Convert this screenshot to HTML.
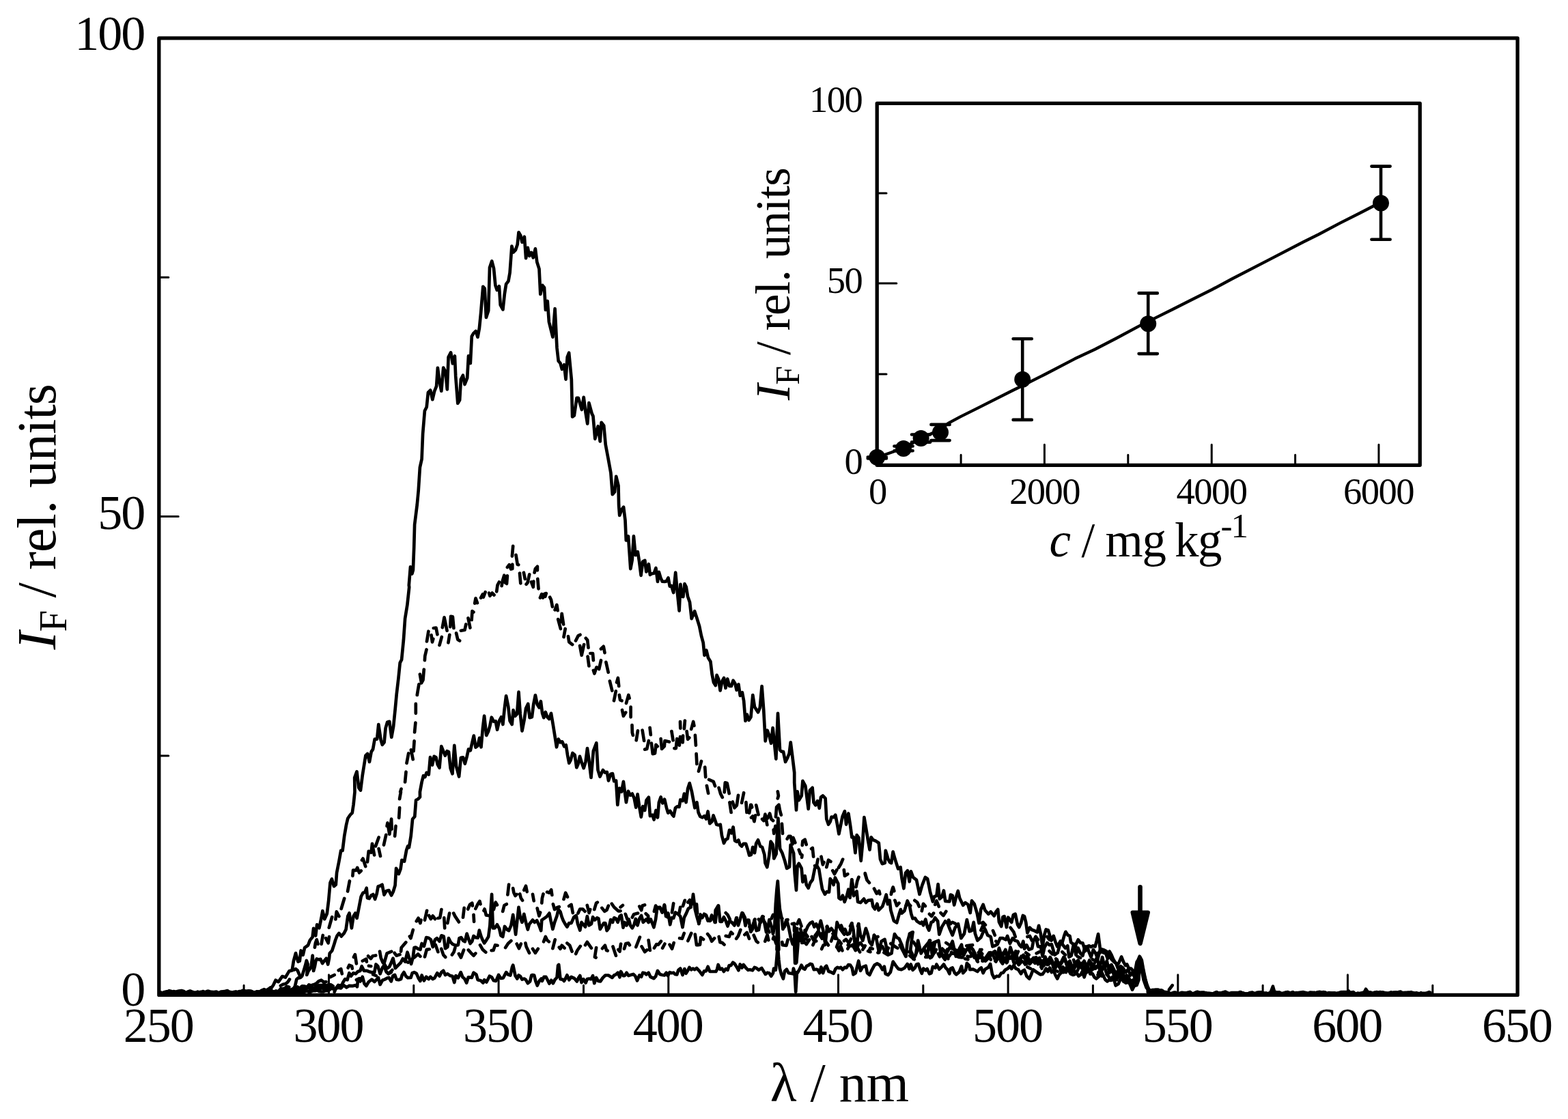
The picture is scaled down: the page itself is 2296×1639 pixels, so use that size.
<!DOCTYPE html>
<html lang="en"><head><meta charset="utf-8"><title>Fluorescence spectra</title>
<style>html,body{margin:0;padding:0;background:#fff;}body{width:2296px;height:1639px;overflow:hidden;}svg{display:block;position:absolute;left:0;top:0;}text{font-family:"Liberation Serif","DejaVu Serif",serif;fill:#000;}.t{font-size:72px;letter-spacing:-2px;}.a{font-size:80px;}.it{font-size:54.5px;letter-spacing:-1.5px;}.ia{font-size:71px;}.c{fill:none;stroke:#000;stroke-width:4.7;stroke-linejoin:round;stroke-linecap:round;}.k{fill:none;stroke:#000;stroke-width:3;stroke-linecap:round;}.e{fill:none;stroke:#000;stroke-width:4.6;stroke-linecap:round;}.fr{fill:none;stroke:#000;stroke-width:5.3;stroke-linejoin:round;}</style></head><body>
<svg width="2296" height="1639" viewBox="0 0 2296 1639">
<rect width="2296" height="1639" fill="#fff"/>
<path class="k" d="M357.1 1457.3v-14.1M481.5 1457.3v-29.5M605.8 1457.3v-14.1M730.1 1457.3v-29.5M854.5 1457.3v-14.1M978.8 1457.3v-29.5M1103.1 1457.3v-14.1M1227.5 1457.3v-29.5M1351.8 1457.3v-14.1M1476.1 1457.3v-29.5M1600.4 1457.3v-14.1M1724.8 1457.3v-29.5M1849.1 1457.3v-14.1M1973.4 1457.3v-29.5M2097.8 1457.3v-14.1M232.8 1106.9h14M232.8 756.6h28.4M232.8 406.2h14"/>
<polyline class="c" points="396.6,1448.2 400.3,1442.7 403.6,1435.7 407.7,1438.1 413.3,1430.1 417.9,1431.6 423.4,1422.4 427.7,1421.4 429.9,1407.6 433,1396.1 436.4,1408.5 438.8,1407.6 440.6,1392.4 443.7,1398.7 446.1,1388.2 451.1,1384.5 453.9,1377.1 457.6,1372.5 459.1,1359.9 462.2,1370.6 464.1,1354.4 467.4,1359.2 470.5,1344.8 472.4,1334.2 475.2,1346.2 478.8,1338.3 481.2,1318.9 483.5,1293 485.9,1287.5 489,1298.2 491.8,1295.8 493.1,1278.2 496.4,1261.6 499.2,1245.9 501.6,1245.9 504.2,1224.7 507.1,1208 509.3,1198.8 513,1193.3 515.8,1190.5 517.6,1178.5 519.5,1160 519.2,1139 522.5,1130.1 525.3,1153.8 528,1157.5 530.8,1135.3 535.4,1106.7 538.2,1103.9 541,1115.9 543.7,1101.1 546.1,1097.4 548.7,1082.6 552.1,1082.6 554.3,1061 557.6,1083.6 559.8,1090.9 562.6,1087.3 564.6,1066.6 567.2,1057.7 570.2,1056.8 573.3,1079.9 576.1,1064.2 578.8,1037.4 580.7,1017 583.5,993 585.7,970.9 588.1,966.2 590.9,937.6 593.1,906.2 596.4,885.9 599.2,860 598.8,857.1 601,830.3 603.4,840.5 604.9,835 606.2,801.7 607.1,768.5 610.8,738.9 612.7,718.6 614.9,684.4 617.6,672.4 619.1,635.4 621.9,601.8 624.7,596.2 626.9,575 630.2,571.6 633.3,585.1 636.1,573.1 639.1,565.7 640.9,538.9 643.5,558.3 646.3,572.7 649.2,538.6 652.4,544.5 654.8,570.3 656.6,523.2 660.1,516.4 662.9,532.5 665.9,521.4 667.2,550.9 670.3,590.7 673.1,586.1 674.9,555.6 677.9,549.7 680.5,563 684.2,553.7 686,521.4 688.8,532.1 690.8,492.7 693.4,488.1 696.7,485 699.5,493.7 701.9,480.7 704.1,458.6 707.3,419.8 709.7,422.5 711.9,465 715.2,454.9 717,392.1 720.2,382.4 723,393 725.4,417.9 727.8,424.9 730.9,419.2 732.7,446.6 736.4,453.4 738.8,430.9 741.1,416.1 744.4,411.8 746.6,399.4 749.4,360.6 751.8,369.5 754.9,366.2 757.7,357.9 759.5,340.3 762.3,344.9 764.5,354.7 767.9,346.8 770.1,378.2 772.8,362.9 775.2,374.9 778,369.9 780.8,377.3 783.9,364.3 786.3,383.7 789.5,393.9 791.3,430.9 794.3,417.9 797,421.2 798.9,453.9 801.7,441 803.9,471.5 809.4,493.7 812.6,452.1 815.5,509.4 817.7,528.8 820.5,532.1 822.9,540.8 826.1,534.3 828.5,555.6 830.7,523.2 833.1,516.8 836.8,555.6 838.1,610.5 840.8,608.6 844.5,582.8 846.9,582.8 851.9,600 854.7,581.8 857.5,604 860.2,620.6 862.4,590.2 866.7,605.9 868.5,609.6 871.3,642.8 875.6,624.3 878.7,646.5 880.6,618.8 884.2,623.4 886.7,651.1 890.7,672.4 894.4,692.7 896.8,724.1 900,720.4 902.2,697.9 905.5,711.2 906.1,740 907.2,754.9 910.5,746.1 913.1,742.7 915.5,762.1 916.8,791.5 918.3,790.9 920,785.4 921.6,808.7 923.3,833.1 925.7,820.3 927.9,785.4 930.5,813.1 932.1,812.6 933.8,808.1 936,822 938.6,842.8 941.2,822.5 944.3,820.9 946.3,837.5 948.2,835.3 949.9,826.2 951.9,841.9 954.3,840.3 957.6,839.7 960.4,832 963,851.9 964.8,837.8 967.4,846.4 969.8,851.7 973.2,851.9 975.9,851.4 978.5,846.4 980.7,858.6 983.1,858 986.2,868 989.2,838.6 991.8,867.4 994.6,894.6 996.4,855.8 997.8,873 1000.3,874.1 1002.5,855.2 1004.8,859.9 1007,873.5 1010,882.1 1012.7,906.2 1017.1,895.1 1020.4,905.3 1024.1,917.3 1026.9,931.1 1029.7,941.3 1031.5,959.8 1034.3,952.4 1037,963.5 1040.4,969 1042.6,987.5 1045,999.5 1047.8,1004.1 1049.6,988.8 1052.2,994.9 1054.6,1011.5 1057.4,997.6 1060.1,993 1062.5,1007.8 1065.3,994.5 1068.1,1005 1070.9,1005 1073.6,996.7 1076.4,1001.3 1078.6,1010.6 1081.4,1002.3 1083.8,1018.9 1086.9,1014.3 1089.1,1026.3 1091.5,1055.8 1093.9,1046.6 1096.5,1054.9 1099.5,1050.3 1102.3,1018 1105,1035.5 1110,1043.3 1112.8,1036.4 1115.6,1005 1118.3,1041.1 1120.7,1085.4 1123.5,1069.7 1126.3,1077.1 1129.1,1088.7 1131.6,1066 1136.3,1111.6 1139,1044.8 1142,1098.3 1144.2,1100.6 1147,1101.1 1150.1,1115.9 1153.4,1109.4 1155.7,1103.5 1157.7,1087.3 1160.5,1109.4 1163.2,1131.6 1163.2,1146.6 1166,1186.5 1167.6,1159.4 1169.8,1172.1 1173.7,1165.5 1175.4,1143.9 1179.3,1151.1 1183.7,1184.9 1185.9,1157.7 1189.6,1153.8 1191.5,1175.5 1194.2,1179.3 1197,1173.2 1199.8,1183.8 1202,1167.7 1204.8,1165.5 1208.6,1169.4 1210.3,1199.8 1213.1,1207.6 1215.8,1203.2 1217.5,1196.5 1220.8,1197.1 1223.3,1193.7 1225.8,1206.5 1228.4,1221.5 1230.8,1209.8 1233.6,1196 1236.9,1188.2 1239.1,1207.6 1242.4,1191.5 1245.2,1209.8 1247.4,1226.4 1249.7,1225.9 1252.4,1249.2 1254.6,1223.1 1257.4,1227 1260.7,1260.8 1263,1236.4 1265.4,1197.1 1267.9,1212 1270.7,1229.2 1273.5,1244.7 1275.7,1226.4 1278.5,1230.3 1281.8,1231.4 1286.8,1234.8 1289,1258.6 1291.8,1265.2 1295.7,1264.1 1296.8,1245.8 1300.6,1258.6 1302.9,1263 1305.1,1264.1 1307.6,1247.5 1310.6,1258.6 1315.1,1272.4 1318.6,1270.2 1320.6,1286.9 1323.4,1301.3 1326.1,1278.5 1328.9,1275.2 1331.7,1291.3 1333.9,1276.3 1337.2,1285.2 1342,1288.9 1346.5,1309.9 1350.3,1296.6 1354.8,1285 1358.1,1287.2 1360.3,1297.7 1362,1306.6 1365.9,1320.5 1368.1,1313.3 1371.4,1312.1 1373.6,1295 1375.8,1316.6 1379.2,1313.8 1381.9,1304.4 1384.2,1319.9 1390.3,1320.5 1391.9,1310.5 1394.7,1311.6 1397.2,1325.5 1400.2,1313.3 1402.8,1304.9 1405.2,1315.5 1410.2,1326 1413.5,1322.1 1417.4,1324.9 1420.7,1337.1 1423,1319.4 1426.8,1324.3 1430.7,1337.6 1433.5,1352.1 1436.3,1332.1 1439.6,1324.9 1442.4,1333.2 1447.3,1338.8 1450.7,1335.4 1455.7,1341.5 1458.4,1335.4 1461.2,1332.1 1462.9,1350.4 1466.2,1357 1468.4,1343.2 1470.6,1342.1 1473.9,1358.2 1476.2,1343.7 1481.2,1350.9 1483.9,1339.9 1486.7,1338.8 1490,1354.3 1492.2,1358.2 1495,1352.1 1497.8,1341 1500,1342.1 1502.2,1350.9 1504.4,1366.5 1507.8,1358.7 1511.1,1362 1514.4,1363.1 1518.8,1365.4 1521.1,1355.9 1523.8,1367.6 1526.6,1386.4 1529.4,1368.7 1531.6,1361.5 1534.9,1362.6 1539.4,1377.6 1542.7,1370.9 1545.5,1379.8 1548.2,1386.4 1552.7,1378.7 1555.4,1380.9 1558.2,1370.9 1560.4,1364.8 1563.7,1369.8 1566.5,1370.9 1568.2,1380.3 1570.9,1382.5 1575.4,1383.6 1578.7,1376.4 1582,1380.9 1585.4,1381.4 1588.1,1389.7 1591.5,1386.4 1594.8,1385.3 1597.6,1387 1600.3,1385.3 1603.6,1386.4 1605.9,1377.6 1608.1,1368.1 1610.9,1389.7 1615.3,1390.9 1619.7,1393.1 1621.9,1396.4 1624.7,1393.6 1627.5,1398.6 1630.3,1405.3 1633,1409.7 1636.4,1413 1638.6,1409.7 1642.1,1401.4 1645.2,1409.1 1648,1414.1 1650.2,1412.5 1653,1418.6 1656.3,1418.6 1659.6,1423 1661.8,1424.1 1664.6,1409.1 1666.3,1406.4 1668.8,1400.8 1671.8,1406.4 1673.5,1416.4 1675.7,1427.4 1677.4,1435.2 1679.6,1443 1681.8,1448.5 1684,1451.8"/>
<polyline class="c" points="429.2,1449.5 432,1444.5 434.2,1434.7 436.3,1432.6 439.8,1431.9 442.2,1429.8 444.7,1422 446.8,1415 448.9,1406.9 450.7,1412.2 449.3,1428 451.7,1422 453.8,1419.2 455.6,1415.7 457.7,1399.5 459.1,1422 460.9,1415.7 462.3,1408 463.7,1404.5 466.9,1405.5 469.3,1404.8 472.1,1411.1 474.9,1407.3 477.8,1403.8 480.2,1412.5 482,1403.8 482.7,1396.4 486.2,1392.5 489,1384.1 491.1,1377 493.6,1370.6 496.4,1366.9 499.7,1371.5 503.8,1366.9 506.6,1361.4 509.3,1342 511.5,1337.4 514.9,1359.5 517.6,1342 520.4,1337.4 522.6,1344.8 526,1327.2 528.7,1313.3 531.5,1307.8 534.3,1306.9 536.7,1300.8 538,1315.2 540.7,1316.1 543.5,1311.5 546.3,1310 549.1,1317 551.8,1308.7 553.7,1298.2 556.4,1297.6 559.6,1295.8 562.5,1310.6 565.7,1305 569.4,1304.1 573.1,1311.5 575.8,1306 578.6,1296.7 580.1,1271.8 583.8,1280.1 586.6,1272.7 588.4,1259.8 592.1,1261.6 595.2,1245 597.1,1239.4 598.9,1241.3 601.7,1224.7 604.1,1199.7 607.3,1196 609.1,1172 612.4,1170.2 615,1167.4 614.9,1160 617.6,1145.5 620,1136.2 622.3,1138.1 624.7,1131.6 627.8,1134.4 630,1109.1 633,1120.5 635.6,1107.9 638.5,1109.4 640.7,1119.6 643.5,1124.6 646.3,1093.2 649.1,1100.2 651.8,1106.7 654.6,1100.2 657,1101.1 659.6,1125.1 662.5,1133.4 665.3,1091.9 668.1,1122.4 672.1,1137.5 674.9,1109.8 678.1,1109.4 680.8,1118.7 683.8,1107.6 686,1097.4 688.8,1099.3 691.5,1087.3 693.8,1077.6 696.5,1094.6 699.5,1092.4 702.1,1080.8 704.5,1094.3 706.9,1066.9 709.1,1048.5 712.2,1077.1 715,1071.5 717.4,1063.2 719.8,1050.7 723,1056.8 725.7,1056.2 728.1,1068.8 730.9,1056.2 734,1050.3 736.4,1061 738.7,1038.3 741.1,1019.3 744.2,1034.6 746.6,1055.8 749.7,1061 751.6,1040.1 754.4,1048.8 757.1,1045.7 759.5,1013.7 761.8,1045.7 764.5,1070.6 767.7,1054 770.1,1037.4 773.2,1030.9 775.6,1051.2 778.9,1050.3 781.2,1031.8 783.9,1018.3 786.7,1031.8 789.5,1036.4 791.9,1027.2 794.1,1044.8 796.3,1051.2 798.7,1042.9 801.5,1050.3 804.2,1053.1 807,1044.8 809.8,1061.4 812.6,1078.9 815,1094.3 817.7,1082.6 820.5,1087.3 823.3,1086.3 826.1,1093.2 828.8,1091.3 831,1105.7 833.3,1117.7 835.7,1113.1 838.4,1103 841.6,1105.7 844.3,1124.2 846.7,1118.7 849,1107.9 851.7,1116.8 854.7,1125.1 857.5,1115.9 860,1096.1 862.2,1111.6 865.5,1139 868.9,1099.8 873.3,1088.3 875.5,1127.9 878.5,1137.5 882.9,1127.9 885.9,1131.6 888.8,1130.9 891,1143.4 894.3,1133.8 897,1133.1 899.2,1144.2 902.1,1143.4 904.3,1178.9 907,1154.5 910,1159.7 912.9,1144.9 916.9,1175.2 919.9,1158.9 922.8,1164.8 925.8,1162.6 928.7,1169.3 931.2,1182.6 933.6,1163.4 936.1,1181.1 938.8,1196.6 941.3,1181.1 944.2,1187 946.5,1172.2 949.9,1167.8 951.9,1195.2 955.3,1193.7 957.6,1200.6 960.5,1187 963,1197.4 964.9,1175.2 967.6,1167.5 970.1,1176.4 973.1,1170.8 976,1183.3 978.2,1190.7 981.2,1187.8 984.2,1192.9 986.4,1195.6 989,1183.3 991.5,1181.4 994.5,1181.8 996.3,1171.5 999.7,1173 1001.9,1162.6 1004.6,1175.2 1007.1,1155.2 1009.7,1147.1 1013,1159.7 1015.2,1171.5 1017.4,1183.3 1020.4,1175.2 1022.6,1190 1025.2,1195.9 1028.5,1197.4 1031.5,1195.2 1034.1,1199.6 1036.6,1188.5 1039.3,1206.2 1042.5,1203.3 1044.5,1194.4 1047,1201.1 1049.2,1207.7 1052.1,1208.5 1054.8,1207.7 1057,1224 1060,1235.1 1062.5,1229.9 1065.5,1228.4 1068.1,1215.8 1071.1,1220.3 1073.6,1211.4 1076.1,1231.4 1078.8,1232.8 1081.3,1230.6 1083.5,1237 1086.1,1239.5 1088.7,1235.8 1092.1,1235.8 1095,1244.7 1097.2,1252.8 1100,1251.9 1102.2,1240.9 1105,1249.2 1107.2,1235.3 1110,1230.3 1113.3,1239.7 1116.1,1240.9 1119.4,1251.9 1120.5,1264.1 1123.3,1270.2 1126.1,1254.2 1128.6,1232.5 1131.6,1237 1133.3,1257.5 1136.6,1250.8 1138.2,1218.7 1139.4,1198.7 1142.1,1243.1 1145.5,1249.7 1148.8,1259.7 1152.1,1271.9 1156,1269.7 1157.6,1237.5 1162.1,1249.7 1163.7,1279.7 1166,1304 1167.6,1268.6 1169.8,1264.7 1173.7,1271.9 1175.4,1291.8 1178.7,1283 1180.9,1296.3 1183.7,1300.7 1186.5,1293 1189.8,1288.5 1193.1,1271.9 1196.4,1268.6 1199.2,1273 1202,1290.7 1204,1302.2 1207.9,1309.9 1210.7,1306.1 1214,1306.6 1215.7,1287.2 1218.4,1290.5 1220.6,1296.1 1222.9,1285.5 1227.3,1294.4 1228.4,1315.5 1231.2,1317.1 1233.9,1311.6 1236.7,1321 1240,1312.1 1242.3,1302.7 1244.5,1314.9 1247.3,1288.3 1250,1312.1 1254.5,1305.5 1256.1,1321 1260,1322.1 1265,1316.6 1267.8,1322.1 1271.1,1318.8 1276.6,1318.2 1278.3,1327.7 1281.1,1331.5 1284.4,1323.8 1286.6,1333.2 1292.1,1327.7 1295.5,1317.7 1297.7,1310.5 1299.9,1324.3 1302.7,1318.8 1304.3,1333.2 1308.8,1348.7 1313.2,1351.5 1316.5,1339.3 1318.8,1332.1 1320.4,1337.6 1324.3,1334.3 1328.7,1319.4 1332.1,1327.7 1334.3,1338.8 1336.5,1345.4 1339.8,1344.8 1342.6,1349.3 1347.6,1352.6 1349.8,1350.4 1352,1355.4 1355.3,1346.5 1358.1,1358.2 1360.3,1362.6 1363.6,1350.9 1366.4,1349.8 1369.2,1344.3 1373.1,1349.3 1375.3,1368.7 1379.2,1357.6 1384.2,1349.3 1387.5,1352.1 1390.8,1360.9 1394.7,1369.8 1398.6,1358.7 1403,1353.2 1407.4,1374.2 1411.9,1367.6 1415.8,1347.1 1419.6,1364.2 1423,1363.1 1425.7,1350.9 1427.9,1367.6 1431.3,1377.6 1436.3,1373.1 1440.1,1364.2 1442.9,1362 1446.2,1369.8 1450.7,1372 1453.4,1386.4 1456.2,1385.3 1460.6,1383.1 1464.5,1374.2 1468.4,1374.2 1472.8,1376.4 1475.1,1370.9 1478.9,1382 1482.8,1374.2 1486.1,1377.6 1490,1378.7 1492.8,1384.2 1495.6,1387 1498.3,1378.7 1500,1389.7 1503.3,1384.2 1506.7,1390.9 1511.1,1389.2 1513.3,1377.6 1516.6,1372 1520,1386.4 1523.8,1386.4 1526.6,1400.8 1529.4,1387.5 1533.3,1380.9 1536.6,1384.2 1539.9,1383.1 1544.3,1398.6 1548.8,1395.3 1553.2,1378.7 1556.5,1384.2 1559.9,1388.6 1563.2,1385.3 1565.4,1401.9 1568.7,1399.7 1572.1,1383.1 1575.4,1398.6 1578.7,1388.6 1582,1396.4 1585.4,1399.7 1588.7,1386.4 1593.1,1390.9 1597.6,1401.9 1600.9,1390.9 1604.2,1396.4 1607.5,1404.2 1610.9,1390.9 1615.3,1395.3 1619.2,1396.4 1621.9,1404.2 1624.2,1394.2 1627.5,1401.9 1630.8,1408.6 1634.1,1410.8 1637.5,1419.7 1640.8,1415.2 1644.1,1417.5 1648.5,1424.1 1651.9,1419.7 1655.2,1428.5 1658.5,1424.1 1661.8,1433 1665.2,1424.1 1668.8,1401.9 1672.4,1413 1676.3,1433 1680.1,1446.3 1682.9,1451.3"/>
<polyline class="c" points="490.9,1447.9 495.3,1446.8 499.2,1447.4 503,1443 507.5,1446.3 511.4,1443.8 516.4,1444.1 521.3,1443 523,1445.2 524.1,1435.2 527.4,1437.4 530.8,1430.8 533.5,1440.7 536.3,1444.1 539.6,1438.5 540,1438 544.4,1434.6 548.3,1438 551.1,1435.2 553.9,1431.9 556.6,1442.1 560,1435.8 563.3,1434.6 566.6,1432.8 569.4,1431.9 572.7,1437.4 575.5,1429.1 578.2,1428 580.5,1434.6 583.8,1435.2 587.1,1434.1 588.8,1428 591.5,1424.1 594.3,1429.7 597.1,1432.1 601.5,1431.9 603.7,1425.2 606.5,1424.1 609.8,1425.8 612.6,1432.4 615.4,1436.9 617.6,1428.5 620.9,1436.3 624.2,1430.8 627.6,1434.1 630.3,1430.8 633.7,1434.1 636.4,1432.4 640.3,1425.2 643.6,1429.7 646.4,1424.1 649.2,1421.7 652,1428 655.3,1426.3 659.2,1429.1 662.5,1429.7 665.3,1439.1 667.5,1429.1 670.8,1432.4 674.7,1424.1 677.5,1431.3 680.2,1433.5 683.2,1439.6 685.8,1431.3 690.8,1431.9 693.5,1424.7 697.4,1427.4 699.6,1435.2 704.1,1436.3 707.4,1439.6 709.1,1435.2 712.4,1438.5 716.8,1429.7 720.1,1431.3 722.9,1436.3 726.2,1436.9 730.1,1428 733.4,1433 736.8,1432.4 741.2,1424.1 744,1427.4 747.3,1428.5 750.1,1416.1 751.2,1413.6 754.5,1429.1 757.3,1433.5 759.5,1428.5 761.7,1429.7 764.5,1434.6 767.8,1433.5 770,1435.2 772.8,1440.2 776.1,1437.4 778.3,1428.5 780,1428 782.2,1428.5 784.4,1437.4 786.7,1443.5 790,1436.3 792.7,1433.5 793.9,1436.9 796.6,1430.8 799.4,1430.8 802.2,1436.3 804.4,1440.7 807.2,1435.8 809.9,1440.2 812.7,1434.6 815.5,1431.9 817.1,1414.1 818.2,1413 820.5,1434.1 823.8,1434.6 826,1436.9 828.2,1433 830.4,1428.3 833.2,1435.2 836.5,1431 841,1433 844.8,1437.4 847.1,1432.4 849.3,1429.1 851.5,1439.1 854.3,1434.1 857.6,1439.6 859.8,1434.1 862.6,1433.5 865.4,1434.1 868.1,1429.1 870.3,1440.2 873.1,1431.9 875.9,1436.9 879.2,1437.4 882.5,1432.4 886.4,1428.5 890.9,1428.5 896.4,1431.9 899.2,1428.5 901.9,1427.4 904.7,1424.7 907.5,1431.3 909.1,1423 912.5,1429.1 914.7,1429.1 917.5,1424.7 920.2,1429.1 923.6,1428 927.4,1426.9 930.2,1429.7 933,1436.3 936.3,1428.5 939.1,1430.8 941.3,1424.7 944.1,1425.2 946.3,1427.4 949.6,1424.7 952.4,1430.8 957.4,1433 960.1,1430.2 962.9,1421.9 966.2,1426.9 969.6,1428 972.9,1428.5 975.7,1424.7 977.9,1429.1 980.6,1424.1 983.4,1425.2 986.2,1424.7 988.4,1426.9 991.2,1427.4 993.4,1420.8 996.2,1418.6 999.5,1428 1002.3,1419.1 1004.5,1425.8 1007.3,1421.3 1009.5,1416.9 1012.2,1420.2 1014.5,1418.6 1017.2,1420.2 1020,1418 1023.3,1421.3 1025.5,1424.1 1028.3,1428 1031.1,1422.4 1033.9,1422.4 1036.6,1415.8 1039.4,1423 1048.3,1423 1049.9,1420.2 1051.6,1413 1054.4,1419.7 1057.1,1418.6 1059.9,1423 1062.7,1419.1 1065.5,1420.8 1067.7,1414.1 1070.4,1414.1 1073.2,1409.7 1076,1411.9 1078.8,1416.4 1081.5,1421.3 1083.7,1412.5 1086.5,1417.5 1088.7,1413 1092.1,1417.5 1095.4,1420.8 1098.2,1420.2 1102,1421.3 1104.8,1416.9 1107.6,1418 1110.9,1420.8 1115.3,1418 1118.1,1422.4 1120.9,1426.9 1123.6,1424.7 1126.4,1425.2 1129.2,1429.7 1132,1425.2 1133.1,1418.6 1135.8,1420.8 1137.5,1401.9 1138.8,1385.3 1140.3,1405.3 1141.9,1418.6 1144.2,1427.4 1146.9,1433.5 1149.1,1422.4 1151.9,1419.7 1154.7,1425.2 1158,1425.8 1160.8,1426.3 1161.9,1418.6 1163.6,1424.1 1165.2,1452.9 1166.9,1424.1 1168,1424.7 1170.8,1419.7 1173.5,1413.6 1176.3,1418.6 1178.5,1419.7 1181.3,1414.7 1183.5,1414.1 1186.3,1411.9 1189.1,1412.5 1191.8,1420.2 1195.2,1419.7 1197.4,1420.2 1200.1,1425.2 1202.4,1416.4 1205.1,1425.2 1207.9,1416.9 1210.1,1414.7 1213.4,1423 1216.2,1423.6 1220.6,1425.8 1223.4,1419.1 1226.2,1416.9 1229,1418 1231.2,1416.9 1233.9,1420.2 1236.7,1416.9 1239.5,1417.5 1242.3,1413 1245,1413.6 1247.8,1418 1249.5,1427.4 1252.8,1425.2 1255,1416.4 1257.2,1407.5 1260,1421.9 1263.3,1416.4 1267.8,1414.7 1270,1425.2 1273.3,1428 1276.6,1420.8 1280.5,1413.6 1284.4,1411.4 1288.3,1413.6 1292.1,1420.2 1294.9,1415.8 1296.6,1426.3 1300.5,1428 1303.8,1424.1 1307.7,1408.6 1311.5,1414.1 1315.4,1419.1 1319.9,1420.2 1324.3,1418 1328.7,1411.9 1331.5,1419.1 1333.7,1412.5 1336.5,1420.8 1339.8,1417.5 1342,1412.5 1344.8,1411.9 1347.6,1420.8 1349.8,1425.8 1352,1418.6 1355.3,1421.3 1357.6,1419.1 1360.9,1426.3 1363.6,1425.2 1365.9,1415.8 1369.7,1417.5 1371.4,1412.5 1375.3,1419.7 1379.2,1415.8 1381.9,1412.5 1384.7,1417.5 1387.5,1420.2 1390.3,1426.3 1391.9,1418.6 1394.7,1417.5 1398,1425.2 1400.2,1427.4 1404.7,1423.6 1408,1415.2 1410.2,1425.2 1414.1,1420.8 1415.8,1410.8 1419.1,1414.1 1420.2,1420.2 1425.2,1419.7 1431.3,1423 1434.6,1419.1 1436.8,1417.5 1439.6,1425.2 1442.4,1419.7 1447.3,1416.9 1450.1,1411.9 1452.9,1426.9 1455.7,1432.4 1459.5,1429.7 1462.9,1430.2 1466.2,1425.2 1469,1424.7 1471.7,1420.8 1475.6,1418.6 1478.9,1415.2 1481.2,1419.1 1484.5,1413.6 1487.3,1418.6 1491.1,1420.2 1495,1426.3 1497.2,1422.4 1500,1420.8 1503.3,1429.7 1507.2,1433.5 1510,1427.4 1512.7,1420.2 1516.6,1423 1520,1425.2 1523.3,1427.4 1526.6,1426.9 1529.4,1423 1531.6,1418.6 1534.4,1423 1537.1,1417.5 1539.9,1424.1 1542.7,1421.3 1545.5,1428.5 1548.2,1433.5 1550.4,1428.5 1554.3,1424.1 1557.6,1424.1 1561,1423 1564.3,1420.2 1567.6,1426.3 1571.5,1428 1574.3,1426.9 1576.5,1424.7 1579.3,1429.7 1582.6,1427.4 1584.8,1423 1587.6,1431.3 1590.3,1423 1593.1,1418.6 1596.4,1426.3 1599.8,1426.3 1602.5,1431.3 1605.3,1433.5 1609.7,1429.7 1613.1,1423.6 1615.8,1429.7 1618.6,1435.2 1621.4,1437.4 1625.3,1434.6 1628.6,1431.3 1631.4,1435.2 1633.6,1443.5 1637.5,1441.3 1640.2,1435.2 1643,1429.7 1645.8,1437.4 1648.5,1439.6 1653,1438.5 1655.2,1443 1658,1449.6 1660.7,1444.1 1664.6,1443 1667.4,1435.2 1668.8,1403 1671.3,1418.6 1674.6,1435.2 1678.5,1446.3 1681.8,1450.7"/>
<polyline class="c" points="489.7,1452.9 492,1447.4 495.3,1443 499.2,1446.3 501.9,1439.6 505.3,1434.1 508.6,1435.2 511.4,1425.2 514.1,1429.7 517.5,1425.2 520.8,1426.3 524.1,1423 527.4,1421.9 529.7,1415.2 533,1421.9 537.4,1421.9 540,1423 543.3,1424.1 548.3,1424.1 550.5,1412.5 553.3,1415.2 556.6,1426.3 560,1417.5 563.3,1413 566.6,1418.6 569.9,1416.4 572.1,1411.9 575.5,1403.6 578.8,1418 582.7,1414.1 586.6,1410.3 589.9,1404.2 593.2,1408.6 596.5,1394.7 599.9,1405.3 602.1,1411.9 604.8,1401.9 606.5,1388.1 608.7,1387.5 612.1,1389.7 615.4,1390.9 617.6,1382 620.9,1385.9 624.2,1373.1 627.6,1373.7 630.9,1376.4 633.7,1387 637,1376.4 639.8,1374.2 643.6,1378.7 646.4,1370.3 649.7,1371.5 652,1389.2 655.3,1387 657,1374.2 659.7,1379.8 663,1383.1 667.5,1384.8 670.8,1384.2 672.5,1374.2 675.2,1373.1 678,1377.6 680.8,1379.2 683.6,1367.6 685.8,1374.2 688.5,1382 691.3,1378.7 693.5,1370.9 696.3,1373.1 699.6,1373.7 701.8,1362.6 704.6,1372 706.8,1377 709.1,1381.4 711.8,1377.6 715.2,1372 717.4,1355.4 719,1326.6 720.1,1309.9 721.8,1359.3 724.6,1359.3 727.9,1354.3 731.2,1360.4 733.4,1370.3 736.2,1372 739,1357 742.9,1362 745.1,1363.1 748.4,1355.4 751.2,1339.9 755.1,1368.7 757.3,1348.7 759.5,1328.8 761.7,1343.2 764.5,1350.9 767.3,1338.8 770,1350.9 772.8,1361.5 775,1353.7 780,1347.6 782.8,1350.9 786.1,1348.2 789.4,1355.4 792.2,1363.1 793.3,1347.6 796.6,1345.4 800.5,1342.6 804.4,1337.6 806.6,1348.7 809.4,1360.9 812.1,1350.9 815.5,1341.5 817.7,1332.1 820.5,1335.4 822.7,1343.2 824.9,1348.7 827.7,1353.7 830.4,1357.6 833.2,1352.1 836.5,1352.1 840.4,1343.2 843.7,1341 846,1353.2 849.3,1362.6 851.5,1350.9 854.3,1354.3 857,1357.6 859.8,1342.1 862.6,1355.4 865.9,1353.2 868.1,1343.2 870.9,1347.6 874.2,1344.3 876.4,1345.4 878.7,1360.9 881.4,1356.5 884.2,1352.1 886.4,1352.1 888.6,1363.1 891.4,1359.3 894.2,1347.1 897,1350.9 899.2,1344.3 901.9,1345.4 904.7,1350.9 907.5,1342.1 909.7,1340.4 912.5,1358.7 914.7,1350.9 917.5,1355.4 920.8,1346.5 923,1355.4 925.8,1359.3 928.5,1354.3 930.8,1346 933.5,1355.4 936.3,1345.4 939.1,1341 941.8,1350.9 946.3,1346.5 949.6,1350.9 952.9,1346.5 957.4,1358.2 960.1,1346.5 962.4,1329.3 966.2,1328.8 969.6,1336.5 972.9,1325.5 975.1,1342.1 978.4,1337.6 981.2,1354.3 983.4,1344.3 986.2,1344.8 989,1336.5 992.8,1338.8 996.2,1342.1 999.5,1358.2 1001.7,1344.3 1005,1337.6 1007.8,1331 1011.1,1328.8 1013.9,1319.4 1015,1309.9 1017.8,1332.1 1020,1341 1023.3,1352.6 1025.5,1339.3 1028.3,1344.3 1031.1,1338.8 1033.9,1340.4 1036.6,1347.6 1039.4,1348.7 1042.2,1340.4 1044.9,1346.5 1047.7,1350.9 1049.4,1332.1 1052.1,1326.6 1054.4,1349.8 1057.1,1349.8 1059.9,1343.2 1062.7,1348.7 1065.5,1356.5 1068.2,1348.7 1071.5,1350.9 1075.4,1355.4 1078.2,1344.3 1081,1355.4 1083.7,1346.5 1086.5,1337.1 1089.3,1343.2 1091.5,1355.9 1093.7,1347.6 1096.5,1347.6 1099.3,1364.8 1102,1360.9 1104.8,1347.1 1107.6,1363.1 1110.9,1362 1113.1,1349.8 1116.4,1342.1 1119.2,1350.9 1122,1365.4 1124.8,1357.6 1126.4,1347.1 1129.2,1355.4 1132,1367.6 1134.2,1357.6 1135.8,1324.3 1137.5,1302.2 1138.8,1290.5 1140.3,1313.3 1141.9,1332.1 1144.7,1345.4 1146.4,1360.9 1149.1,1355.4 1151.9,1347.6 1154.7,1357.6 1158,1374.2 1160.8,1383.1 1163,1374.2 1164.1,1410.8 1166.3,1409.7 1168,1388.6 1169.7,1366.5 1173,1377.6 1176.3,1368.7 1179.6,1364.2 1183,1356.5 1186.3,1352.1 1189.6,1350.4 1192.4,1357.6 1195.2,1353.2 1198.5,1360.9 1201.8,1348.7 1205.1,1362 1208.5,1383.1 1211.2,1356.5 1214,1364.2 1217.3,1359.8 1220.6,1364.2 1223.4,1370.9 1225.6,1350.9 1228.4,1357.6 1231.7,1355.4 1234.5,1362 1237.3,1360.9 1240.6,1368.7 1243.9,1367.6 1247.3,1352.6 1249.5,1362 1252.8,1392 1255.6,1377.6 1257.2,1353.2 1260,1369.8 1263.3,1377.6 1267.8,1359.8 1270.5,1367.6 1273.3,1379.8 1276.6,1384.2 1280,1369.8 1283.3,1375.3 1287.2,1395.3 1290.5,1378.7 1295.5,1375.9 1300.5,1398.6 1305.5,1396.4 1307.7,1379.8 1309.9,1368.1 1313.2,1373.1 1316.5,1374.8 1320.4,1383.6 1324.8,1397.5 1326.5,1400.8 1328.7,1379.8 1332.1,1367.6 1336.5,1365.4 1333.2,1390.9 1337.6,1404.7 1340.9,1398.6 1344.2,1377.6 1348.7,1396.4 1353.1,1388.6 1357.6,1401.9 1360.9,1377.6 1365.3,1399.7 1369.2,1379.8 1374.2,1377.6 1377.5,1396.4 1381.9,1400.8 1385.3,1397.5 1389.7,1389.7 1394.7,1378.7 1399.7,1400.8 1404.1,1390.9 1408,1383.6 1410.8,1399.7 1415.2,1390.9 1420.7,1385.3 1425.2,1392 1430.7,1407.5 1435.2,1390.9 1439.6,1407.5 1444,1401.9 1448.5,1395.3 1453.4,1397.5 1458.4,1408.6 1462.9,1388.6 1467.3,1401.9 1472.3,1390.9 1475.1,1407.5 1479.5,1387.5 1483.9,1400.8 1487.3,1393.1 1491.7,1413 1496.1,1400.8 1500,1403 1504.4,1399.7 1508.9,1410.8 1513.3,1403 1517.7,1407.5 1522.2,1403 1525.5,1418.6 1529.9,1405.3 1533.3,1413 1537.7,1401.9 1541,1408.6 1544.3,1413 1547.7,1405.3 1551,1416.4 1554.3,1408.6 1557.6,1401.9 1562.1,1413 1566.5,1407.5 1570.9,1418.6 1574.3,1410.8 1578.7,1406.4 1583.1,1415.2 1587.6,1407.5 1590.9,1416.4 1595.3,1406.4 1598.7,1418.6 1603.1,1409.7 1606.4,1401.9 1609.7,1418.6 1614.2,1401.9 1617.5,1417.5 1620.8,1407.5 1624.2,1424.1 1627.5,1413 1631.9,1421.9 1635.2,1435.2 1638.6,1424.1 1641.9,1419.7 1645.2,1433 1649.7,1428.5 1654.1,1435.2 1657.4,1446.3 1660.7,1437.4 1664.1,1433 1668.8,1401.9 1672.9,1419.7 1677.4,1438.5 1681.8,1449.6"/>
<polyline class="c" points="1500,1410.8 1503.3,1406.4 1507.8,1411.9 1511.1,1405.3 1515.5,1410.8 1520,1408.6 1523.8,1410.8 1527.7,1411.9 1532.1,1408.6 1536.6,1404.2 1541,1411.9 1545.5,1417.5 1549.9,1409.7 1553.2,1421.9 1556.5,1416.4 1561,1424.1 1564.3,1413 1568.7,1421.9 1572.1,1420.8 1575.4,1413 1579.8,1413 1584.2,1410.8 1588.7,1421.9 1592,1413 1596.4,1426.3 1599.8,1416.4 1604.2,1418.6 1608.6,1413 1612,1421.9 1616.4,1413 1619.7,1424.1 1624.2,1425.2 1628.6,1418.6 1633,1429.7 1636.4,1423 1639.7,1429.7 1644.1,1424.1 1647.4,1435.2 1651.9,1429.7 1655.2,1437.4 1659.6,1435.2 1663,1439.6 1666.3,1429.7 1668.8,1401.9 1674,1424.1 1678.5,1440.7 1682.9,1450.7"/>
<polyline class="c" points="234,1454.8 237.5,1456.5 240.8,1456.1 244.3,1454.1 247.7,1455.1 251.5,1453.1 254.7,1452 258.4,1454.3 261.3,1456.5 265.2,1456.5 268.8,1454.3 271.6,1454.8 274.5,1453.4 277.6,1451.9 280.9,1453 284.7,1454 288.3,1454.4 291.9,1454.5 295,1456.5 299,1456.5 302.7,1455.6 305.7,1454.3 308.6,1455.9 311.9,1456.5 315.2,1456.5 319,1454.5 322,1456.5 325.4,1456.5 328.7,1454.7 332.2,1456.2 335.4,1453.7 338.6,1456.5 342.3,1454 345.4,1452.5 348.2,1455.1 351.3,1455.3 354.6,1453.7 358.3,1452.5 361.8,1451.8 365.1,1451.9 368.3,1455.5 372,1454.3 375.9,1452.3 379.2,1453.9 382.7,1450.8 386.7,1449.1 389.8,1450.6 393,1448.8 395.9,1446.5"/>
<polyline class="c" points="234,1454.9 237.6,1455.7 240.6,1453.1 243.8,1452.8 247.6,1454.7 251.1,1455.1 254.7,1453.4 258,1452.5 261.9,1451.5 265.7,1451 269.3,1452 272.6,1455 275.4,1452.9 279.3,1453.9 282.2,1456.5 286.2,1454.1 289.5,1452.7 292.7,1454.3 295.6,1455.6 298.5,1453.7 302.3,1453.8 305.6,1454.8 309,1454.3 311.8,1455.7 315.8,1456.5 319.4,1455.8 322.6,1456.3 326.2,1453.9 329.3,1453.7 332.7,1455.8 336.1,1453.2 339.9,1453.7 343.3,1452.9 346.6,1453.3 350.3,1452.2 353.8,1451.9 357.4,1451.1 360.6,1452.1 364.1,1451.3 367.5,1451.5 370.6,1453 374.6,1453.8 378.5,1452.7 382.4,1453.1 385.5,1455.2 389.4,1452.7 392.5,1455 395.7,1453.7 398.5,1451.6 402,1454.7 406,1453.8 408.9,1452.3 412.6,1453.6 416.2,1451.2 419.6,1450.8 423.2,1449.3 427.1,1451.3"/>
<polyline class="c" points="234,1453.7 237.6,1455.3 241.4,1453.5 244.5,1452.3 247.6,1454.8 250.5,1455 253.6,1453.9 256.9,1456.2 260.4,1453.1 263.6,1452.1 267.4,1455 271.2,1456.5 274.9,1456.5 278.6,1455.5 282.5,1455.2 286.2,1455.5 289.5,1454.5 292.8,1453.8 295.7,1456 299.5,1456.5 303.1,1456.5 306.8,1454.2 310.4,1454.3 313.4,1453 316.9,1452.6 320.2,1454.3 323.5,1452.7 326.9,1452.3 330,1451.9 333.2,1451.1 336.8,1455.2 340.1,1456.3 344,1453.3 347,1455.7 350.8,1456.1 353.7,1455.1 357.6,1456.5 361.4,1454.6 365.2,1454.1 368.8,1452.6 372.8,1454.2 376.5,1453.1 380,1454.4 383.5,1453.9 387.2,1453.6 390.3,1452.5 394,1451.6 397,1450.9 400.6,1453 404.1,1451.5 407.4,1452.3 410.3,1450.9 414.3,1450.8 417.5,1451.5 421,1450.9 424.3,1452 428.1,1450.4 431.3,1451.9 435.3,1452.5 438.7,1453.5 441.8,1450.6 445.2,1453.3 448.9,1451.2 452.5,1452.9 455.7,1452.4 458.9,1450.1 462,1448.5 465.2,1446.5 468.5,1445.5 472.2,1447.4 475,1449.2 478.1,1448.5 481.5,1447.2 484.7,1446.8 487.6,1448.6"/>
<polyline class="c" points="234,1453.1 237.6,1454.7 241.6,1453.7 244.7,1455.4 248.3,1454.3 251.9,1454.1 255.6,1452.7 258.7,1455.7 261.9,1454.2 265.7,1455.2 268.7,1455.4 272.3,1453.6 275.8,1452.4 279,1451.6 282.1,1455.4 285.4,1456.5 288.7,1456.5 292.6,1456.5 295.5,1456.5 299,1454.3 302,1456.4 305.4,1454.3 308.7,1453.3 312.5,1454 315.4,1456 318.3,1454.5 321.1,1455.9 324.1,1455.6 327,1455.2 330.6,1455.3 334,1455.1 337.3,1455.5 340.2,1455.2 343.3,1456.5 347.2,1453.9 350.2,1455.4 353.7,1452.9 357.3,1456 360.6,1454.8 364.1,1456.5 367.2,1455.2 370.2,1455.7 373.6,1454.2 376.9,1452.3 380,1455.9 383.6,1454.4 387.5,1454 390.6,1452.2 393.6,1452 396.6,1455.2 399.7,1453.9 403.3,1456.4 406.4,1456.5 409.7,1456.4 413.2,1456.5 416.9,1456.5 420.7,1455.3 424,1456.5 427.4,1456.5 430.6,1456.5 434.1,1455.7 438,1455.2 441.3,1453.8 444.2,1452.5 447.8,1451.3 450.9,1452 454.4,1451.9 458.1,1451 461.4,1451.2 464.3,1450.2 467.3,1451.9 470.3,1452.4 473.3,1452.5 476.9,1450.9 480.8,1451.2 484.3,1448.3 487.6,1447.7"/>
<polyline class="c" points="234,1456.5 236.8,1456.5 239.8,1456.5 242.6,1456.5 246.2,1456.5 250.2,1456 253.4,1456.5 256.6,1454.6 259.7,1456.5 263.5,1456.5 266.6,1456.5 270,1455.6 273.3,1454.9 276.2,1455.3 279.5,1455.6 283.4,1456.1 286.7,1456.5 290.7,1456.4 294.6,1453.1 297.6,1452.1 301.5,1454.5 305.2,1453.5 308.5,1456.4 311.5,1453.6 314.3,1454.1 318.1,1454.8 321.4,1454.9 324.4,1456.5 327.7,1454.9 330.8,1456.5 334,1456.5 337.2,1456.4 340.1,1456.5 343.9,1456.5 346.8,1455.8 350,1456.5 354,1456.5 357.1,1453.9 361,1456.5 364,1456 367.3,1456.5 370.2,1454.3 374,1455 377.4,1456.5 380.9,1456.5 384,1453.7 386.8,1453.4 390.4,1453.4 393.6,1454.8 397.2,1455.4 400.4,1456.5 404.2,1456.5 408,1453.4 411.6,1452.1 414.9,1452 417.9,1450.2 421.9,1449 425.8,1450 428.9,1448.2 432.5,1449 435.7,1445.5 438.7,1447.8 442.4,1444.3 446.2,1444.6 449.4,1446.3 452.3,1442.4 455.5,1443.5 459,1442.3 462.9,1440.7 466.6,1437.2 470.4,1435.7 473.9,1438.4 477.5,1438"/>
<polyline class="c" points="234,1454.2 237.4,1454.1 240.7,1454 244.3,1453.1 247.9,1451.2 251,1452 254,1454.7 257.2,1456.5 261.1,1454.4 265,1456.4 268.6,1453.1 271.9,1454.7 275.1,1453.3 278.3,1452.7 282,1452.9 285.3,1454.6 289.3,1453.6 292.1,1456.5 295.9,1456.5 299.3,1455 302.3,1453.9 305.7,1452 309.3,1454.6 312.1,1456.5 315.5,1456.5 318.9,1456.5 322.2,1456.5 325.6,1453.7 328.6,1452.8 331.9,1453.1 335.3,1454.8 338.6,1453.9 342,1456.5 345.8,1456.5 349.6,1454.5 352.5,1452.5 355.4,1450.9 359,1455.1 361.9,1456.1 365.8,1456.5 368.8,1456.5 371.9,1454.3 374.7,1454.7 378.6,1452.6 381.6,1453.1 384.5,1453.7 388.1,1454.1 391,1451.9 394,1454.2 397.9,1454.6 400.9,1453.2 404.2,1451.8 407.1,1452.9 410.9,1452.4 414.8,1455.7 418.1,1453.3 421.1,1454.2 424.9,1455.5 427.9,1453.5 430.8,1451.6 433.9,1449.2 436.8,1452.6 440,1451.4 443.4,1450.3 446.9,1449.6 450.3,1446.6 453.9,1448 457.6,1446.4 460.9,1448.1 464.6,1444.5 467.8,1443 471.4,1443.1 474.7,1441.9 478,1443.8 481.6,1441.7 484.9,1442.6 487.7,1444.5"/>
<polyline class="c" points="234,1455.1 237.8,1456.5 240.9,1456.5 244.6,1456.5 247.5,1453.9 250.8,1455.6 253.9,1455.3 257,1456.5 261,1455.5 265,1453.2 268.7,1455.8 271.7,1456.4 275.2,1456.5 278.2,1456.5 282.1,1456.5 285.3,1453.9 289.2,1454.3 293.2,1452.9 297,1455.3 300.9,1452.9 304.1,1451.7 307.8,1452.5 311.8,1453 315.5,1455.7 318.6,1455.6 322.5,1455.5 325.8,1454.1 329.5,1453.1 333,1454.2 336.5,1452.8 340.1,1455.8 343.3,1454.6 347.2,1455.2 350.3,1452.7 354,1453 357.4,1452.8 360.9,1454.9 364.1,1452.9 368.1,1455.8 370.9,1455.8 374.5,1455 378.2,1456.5 381.7,1455.7 384.8,1454.2 387.7,1452.7 390.8,1454.6 394.2,1455 398.1,1454.7 401,1454.9 403.9,1453.9 407.7,1452.2 411,1448.1 413.9,1448.3 417,1447.5 420.1,1444.9 423.3,1445.8"/>
<polyline class="c" points="400,1453.1 403.6,1452.5 406.6,1453 410,1453 413.4,1451.5 416.5,1453.1 419.7,1453.7 423.4,1454.9 427.3,1451.5 430.4,1452.6 433.9,1449.7 437.5,1452 441.3,1449.1 444.5,1446 448.5,1445.4 452.1,1446.8 455.7,1447.3 459.4,1447.7 462.6,1445 466,1448.1 469,1448.2 472.5,1444.9 475.6,1446.1 478.9,1444.9 482.3,1442.2 485.9,1443.4"/>
<polyline class="c" points="1681,1449.7 1684.6,1450.8 1688,1450.1 1691.8,1452.3 1695.2,1452.5 1698.3,1450.7 1701.5,1452.2 1704.4,1454 1707.5,1453 1710.3,1455.6 1714,1456.5 1717.5,1454.2 1720.7,1454.8 1723.7,1456.5 1726.9,1455.1 1730.7,1453.8 1734.6,1454.4 1738.1,1454.3 1741.4,1453.7 1744.3,1456 1747.4,1456.5 1750.4,1456.5 1754.3,1456.5 1758,1456.5 1761.7,1455 1765.1,1456.5 1768.1,1456.5 1772,1456.5 1775.2,1455.9 1778.5,1456.5 1781.7,1454.9 1784.6,1456.1 1788.6,1455.8 1792,1455.9 1795.7,1454.7 1799.3,1455.3 1802.8,1454.2 1805.8,1454.2 1809.7,1454.2 1813.2,1454.1 1816.2,1453 1819.9,1455.3 1823.2,1456.2 1826.8,1456.5 1830.7,1456.3 1834.7,1456.5 1838.2,1456.5 1841.6,1456.5 1844.7,1456.5 1847.7,1455 1851.5,1456.4 1854.9,1456.5 1857.7,1455.6 1860.9,1452.8 1863.9,1444.8 1867.1,1456.2 1871.1,1456.5 1874.4,1455.3 1878.4,1455.5 1882.1,1453.7 1885.1,1455.9 1888.9,1456.5 1892.4,1456.2 1895.9,1456.5 1899.1,1456.5 1902.2,1456.5 1905,1456.5 1909,1454.6 1912.5,1455.6 1916.3,1456 1919.4,1455.4 1923.3,1456.5 1926.3,1454.8 1929.2,1453.3 1932.6,1452.9 1936.4,1454.7 1939.4,1455.3 1942.5,1455.4 1945.6,1454.2 1948.6,1454.3 1952.3,1455.1 1955.1,1456.2 1959,1456.5 1962.7,1454.4 1966.1,1453.2 1969.8,1453 1973.5,1453.2 1977.1,1453.5 1979.9,1454 1983.1,1456.3 1986.3,1456 1989.7,1456.5 1992.6,1456.5 1996.1,1456.5 2000,1448.8 2003.7,1454.2 2007.1,1454 2010.9,1456.5 2014.1,1455.4 2018.1,1453.9 2021,1453 2024.8,1455.2 2028.1,1455.9 2031,1456.3 2034.3,1456.1 2037.6,1455.5 2040.6,1453.7 2043.9,1453.6 2047.6,1455.7 2051.3,1455.5 2054.3,1455.1 2057.7,1455.8 2061.7,1454.1 2065.1,1454.7 2068.7,1456.5 2072.5,1456.5 2076.2,1456.5 2080,1456.5 2083.6,1455.4 2087.5,1455 2091.1,1456.5 2095,1456.5"/>
<polyline class="c" points="1681,1453.4 1684,1450.7 1688,1450.1 1690.9,1451.8 1694.1,1453.9 1697.2,1455.4 1700.4,1455 1704.3,1455.3 1708.2,1455.7 1711.1,1456.5 1714.6,1455.2 1717.6,1456.5 1721.1,1456.5 1724.8,1456.5 1728.3,1456.5 1731.9,1456.1 1735.8,1455.1 1739.5,1456.5 1743.1,1455 1746.9,1456 1749.9,1454 1753.4,1452.8 1757.3,1454.1 1760.7,1454.4 1764.3,1456.5 1767.5,1455.7 1771,1454.8 1774.5,1455.3 1777.8,1456.2 1781.2,1454.3 1785.2,1454.3 1788.5,1454.5 1792.5,1456.5 1795.9,1455.9 1798.8,1456.5 1801.8,1456.5 1805,1455.5 1808.2,1454.3 1811.1,1455 1814.8,1455.9 1817.9,1456.5 1820.7,1455.8 1824.5,1456.5 1827.9,1456.5 1831.3,1456.5 1834.8,1456.5 1838.5,1456.5 1842.2,1456.5 1845.4,1456.5 1849.2,1456.5 1853.1,1454.5 1856.5,1455.5 1859.7,1454.2 1863.3,1454.6 1866.5,1453.2 1870.4,1453.7 1873.4,1453.4 1876.5,1455.9 1879.5,1454.9 1882.4,1455.1 1885.4,1454.7 1889.1,1456.5 1892.9,1454.4 1896.2,1456.3 1899,1454.8 1902.4,1454.7 1906.1,1456 1909.5,1454.8 1912.5,1454.2 1915.4,1455.5 1918.4,1456.5 1922,1454.7 1925.4,1455.5 1928.2,1455.5 1931.1,1456.5 1933.9,1456.5 1937.9,1456.5 1940.9,1456.5 1943.9,1455.6 1947.7,1456.5 1950.6,1455.8 1954.1,1454.4 1957.9,1456.5 1961.4,1455.6 1965.2,1455.6 1968.2,1454.7 1971.2,1456 1974.6,1451.3 1978.4,1456.5 1981.4,1456.5 1985.3,1456.5 1988.5,1456.5 1991.6,1455.1 1994.4,1454.8 1997.5,1455.2 2001.5,1454 2004.9,1456.2 2008.4,1456 2012.2,1453.9 2016.1,1455.4 2019.9,1456.5 2022.8,1454.5 2025.8,1455 2029.7,1456.5 2033,1456.5 2036.7,1455.6 2040.7,1456.5 2044.4,1456.5 2048.1,1456.5 2051.3,1455.8 2054.4,1454 2058.3,1453.9 2061.1,1453.9 2064.1,1454.5 2067.2,1453.7 2070.6,1454.2 2073.8,1456.1 2077,1456 2080.9,1456.5 2084.1,1454.9 2088.1,1455.3 2091.1,1453.9 2094.2,1453.9"/>
<polyline class="c" points="1681,1453.1 1684.9,1453.9 1687.8,1453.4 1691.1,1453.1 1694.1,1451.7 1697.4,1451.2 1700.8,1450.3 1703.7,1452.7 1707,1453.4 1710.7,1453.4 1713.5,1455.1 1717,1455.8 1720.6,1456.5 1723.8,1456.5 1727.1,1456.5 1730.7,1455.7 1733.6,1455.6 1737.2,1455.9 1740.6,1456.4 1743.6,1454.7 1746.8,1456.4 1749.8,1454.5 1752.7,1453.1 1755.9,1454.5 1759.6,1454.3 1762.9,1454.1 1766,1455.9 1769.5,1454.8 1772.4,1456.3 1776.1,1456.5 1779.2,1456.5 1783.1,1456.5 1787,1454.8 1791,1453.4 1794.3,1452.5 1798,1454.6 1802,1456.3 1806,1456.1 1809.9,1456.5 1813.2,1456.5 1816.4,1455.8 1819.3,1455.6 1822.3,1456.5 1826.3,1455.4 1829.2,1455.6 1832.2,1455.8 1836,1454.7 1839.3,1456.5 1842.6,1455.6 1846.5,1456.5 1850.4,1456.5 1853.7,1456.5 1857.5,1456.5 1860.5,1455.6 1863.8,1456.5 1867.3,1456.4 1871.1,1454.5 1874.7,1454.3 1878.1,1456.2 1881.2,1456.5 1884.1,1456.5 1887.6,1455.3 1891,1455.3 1894.4,1456.3 1897.2,1455.5 1900.9,1454.1 1904.8,1453.6 1908.4,1453.2 1911.7,1454 1914.6,1455.5 1918,1456.3 1921.4,1456.2 1924.9,1455.1 1928.8,1453.7 1932.6,1456 1936,1456.5 1939.6,1456.5 1942.8,1455.5 1946,1454.8 1949.9,1454.5 1953.2,1454.7 1957,1455 1960.4,1454.3 1963.6,1453.2 1966.6,1453.4 1970.5,1454.4 1973.4,1454.8 1976.3,1455.4 1979.7,1456.5 1982.8,1456.5 1985.9,1456.5 1989.4,1455.5 1993.2,1454.6 1996.4,1453.7 2000.2,1452.9 2003.9,1453.7 2007.5,1453.7 2010.4,1456.2 2014,1454.6 2018,1456.5 2021,1454.3 2024.5,1453.4 2028.2,1454.3 2031.9,1455.2 2035.6,1456.5 2039.1,1456.5 2042.3,1454.7 2045.2,1456.5 2048.3,1455.8 2051.5,1456.2 2054.9,1456.5 2058.2,1456 2061.8,1456.5 2065.7,1455.5 2069.6,1456.5 2073.6,1455.1 2076.8,1456.4 2080.6,1454.2 2083.9,1455.7 2087.6,1455.8 2090.6,1455.3 2093.5,1454.7"/>
<polyline class="c" points="1681,1452 1684.8,1450.4 1688.8,1450 1692.4,1449.5 1696.1,1449.6 1699.8,1452.2 1703.5,1452.6 1707.3,1455.3 1710.3,1454.9 1714.2,1455.9 1717.5,1454.8 1721.5,1453.6 1725.2,1456.1 1728.2,1455.2 1731.4,1455.5 1734.6,1456.5 1738.5,1455.7 1742.4,1453.9 1745.3,1455.3 1749.1,1456.5 1753,1456.5 1756.2,1456.5 1760.1,1455.1 1763.5,1454 1766.4,1454.6 1770,1456.5 1773,1456.4 1777,1456.5 1780.4,1455.4 1784,1454.5 1787.6,1455.6 1790.8,1456.5 1794.1,1456.1 1797.9,1454.9 1800.9,1455.5 1804.3,1456.5 1807.4,1455.9 1810.2,1455.6 1813.4,1455.4 1817.1,1453.6 1821.1,1455.4 1824.9,1455.6 1828.4,1455.3 1831.7,1454.3 1834.8,1454.1 1838,1456.4 1841.8,1456.5 1844.6,1455.2 1848.1,1456.1 1851.4,1456.4 1855.2,1455.1 1858.5,1456.4 1861.7,1456.5 1865,1454.4 1868.3,1453.2 1872.1,1455.7 1875.5,1456.5 1878.5,1456.3 1881.6,1454.2 1885.3,1453 1889.3,1454.4 1892.9,1453.1 1896.8,1455.4 1899.7,1454.2 1902.7,1454.9 1905.6,1456.4 1909,1456.5 1912.1,1456.5 1915.4,1456.5 1918.7,1456.5 1922.5,1456.5 1925.7,1455.9 1928.7,1454.3 1932.7,1454 1936.5,1453.7 1940.1,1453.5 1943.3,1455.5 1946.8,1456.5 1949.9,1455.6 1952.7,1454.5 1956.7,1455.2 1960.1,1454.8 1963.8,1455.9 1966.8,1453.9 1969.8,1456 1973.5,1454.7 1976.6,1454.3 1980.2,1455.9 1983.3,1455.1 1986.3,1456.5 1989.8,1456.5 1992.9,1456.5 1996.4,1456.5 1999.6,1456.1 2003.4,1456.5 2006.8,1456.1 2009.7,1455.6 2013.6,1455 2017,1455.6 2020,1454 2023.5,1456.5 2027.3,1455.4 2031.1,1456.5 2034.6,1455.7 2037.6,1456.5 2041.2,1454.9 2044.2,1453.7 2048,1456.1 2051.4,1456.3 2055,1454.6 2058.5,1454.9 2062.3,1453.8 2066.1,1453.2 2069.7,1455.8 2072.6,1455.7 2075.4,1455.7 2078.7,1456.5 2082.1,1456.5 2085.8,1456.5 2089,1455.5 2092.6,1454"/>
<polyline class="c" points="1681,1451 1684.9,1452.6 1688,1453.9 1691.5,1451.5 1695.5,1451.2 1698.6,1451.9 1702.1,1451.2 1705.8,1453.8 1709.2,1455.3 1712.7,1456.3 1715.8,1455.2 1719.1,1453.7 1723.1,1455.2 1726,1455.8 1729.3,1454.5 1732.3,1454.8 1735.2,1455.4 1738.6,1454 1742.4,1452.9 1745.5,1455.4 1748.5,1455.2 1752,1455.1 1755.4,1455.3 1758.8,1453.7 1762.5,1453.7 1765.4,1454.2 1769.2,1455.3 1772.5,1455.4 1775.6,1455.9 1778.8,1454 1781.8,1453.1 1785.4,1455.8 1789.1,1454.6 1792.1,1456.5 1795.3,1454.9 1798.8,1455.7 1802.3,1455.5 1805.4,1455.5 1808.8,1456.3 1812.1,1455.4 1816.1,1453.9 1819.8,1454.3 1823.6,1455.7 1827,1456.1 1830.1,1454 1833.8,1453.7 1836.7,1455.8 1840.3,1453.8 1843.7,1453.3 1847.5,1453.4 1851.4,1454.8 1854.3,1454.8 1858.3,1456 1861.3,1455.3 1864.4,1453.8 1867.9,1455.4 1871,1455.7 1874.8,1456.5 1877.8,1454.8 1881.7,1454.5 1884.7,1456.2 1887.8,1456.5 1891.5,1455.4 1894.8,1454.7 1898.6,1454.2 1901.7,1456.3 1904.8,1455.7 1908.3,1453.7 1911.4,1455.5 1915.4,1454.9 1918.8,1453.5 1922.1,1453.9 1925.5,1453.8 1928.7,1456.3 1932.5,1455.4 1935.3,1453.7 1938.3,1453.1 1941.8,1454.3 1944.7,1456.4 1948.3,1456.5 1952.2,1455.6 1956.1,1456.5 1960,1454.8 1963.8,1456.5 1966.7,1456.5 1970.5,1455 1974.1,1456.3 1977.8,1454.2 1981.8,1453.1 1984.7,1456 1988.1,1454.6 1991.4,1455.5 1994.5,1456.5 1998.1,1456 2001.3,1454.3 2005.3,1454.1 2009.2,1454.9 2012.7,1453.9 2016.1,1453.1 2019.4,1454.7 2023.3,1454 2026.3,1455.9 2029.3,1454.5 2032.7,1454.7 2036.7,1453.4 2040.5,1454.2 2043.5,1453.8 2047.4,1453.3 2050.7,1452.5 2054.1,1454.7 2057.8,1454.5 2061.1,1456.3 2064.9,1455.8 2067.8,1456.5 2071,1456.5 2073.9,1454.2 2076.8,1455 2079.9,1456.4 2082.9,1456.5 2085.7,1455.6 2089.6,1454.6 2092.8,1453.2"/>
<path class="c" d="M410.9 1443.8L414.5 1441.7L418.3 1441L421.5 1438.2L424 1434.4M430.3 1420.6L433.1 1419.2L435.6 1421.3L439.1 1429.4M460.9 1387.6L461.9 1381.3L463.7 1376.3L465.5 1382.7M470.7 1382.7L471.8 1375.6L472.8 1370M477.1 1374.2L480.6 1381.3L482 1372.1M481.8 1358.7L486.2 1343.2M491.4 1346.5L492.8 1335.4L496.4 1342.1M499.7 1331L504.2 1316M509.1 1305.5L511.9 1290.5M516.4 1282.9L517.1 1274.5L521.3 1274.9L523.2 1270.9L526 1278.2L528.7 1275.5M530 1259.8L531.5 1257.6L535.2 1269M538 1262.5L539.8 1246.8L543.5 1248.7L545 1235.8L548.1 1252.4M554.6 1243.1L557 1253.9M550 1239.4L554.6 1226.5M562 1237.6L565.3 1222.8M566.6 1209.9L567.5 1205.3L570.3 1221.9L573.1 1199.7L573.6 1214.5M578.1 1224.7L579.5 1209.9M584.2 1197.9L585.1 1183.1M585.1 1170.2L586.9 1160M586.2 1160L587.5 1155.6M593.1 1145.5L594.5 1130.7M595.5 1117.7L598.2 1103.5M601.9 1098.3L604.7 1112.2M605.6 1100.2L606.6 1085.4M607.1 1072.5L608.4 1058.6M608.8 1044.8L608.8 1030.9M610.8 1018L613.4 1002.3M614.9 987.5L617.1 1000.4L619.5 995.8L620.8 980.5M621.9 967.2L622.3 960.7L624.5 951.5M625 939.4L627.4 924.7M631.5 930.2L633 940.4L634.3 935.8M634.8 920L638.5 919.5L640.4 929.3M643.5 945L646.8 933M647.8 919.1L650.5 904.3L654.6 923.7M656.4 941.3L658.3 929.8M659.2 918.2L660.1 902.9L662.9 903.4L664.4 920M668.1 927.4L670.3 936.7L673.1 938.5M674.9 923.7L680.5 922.8L682.3 914.5M685.5 905.3L688.4 919.5M690.6 908L691.5 895.1L693.4 896.6M695.2 883.6L696.5 876.3L698.9 883.1M704.1 875.6L706.9 870.4L707.8 874.7L710.6 867.3M716.1 868.6L717.4 872.8L720.7 868.6L723.5 871.5M727.2 866.4L728.5 857.1L730.9 852.5M734.6 858.1L735.9 850.7L738.3 842.7L739.8 853.4L742 854.9L742.9 843.3M742.9 830.9L745.7 827.2L748.1 833.5L750.3 826.7L750.3 833.1M749.9 814.6L751.2 799.9M755.5 812.8L757.7 826.7L759.2 827.2M761 839.6L762.3 854.4M766.9 838.7L768.8 847.9M770.6 855.7L772.5 853.4L775.2 841.4M778 852.5L780.8 859.9L781.3 851.6M782.6 838.7L783.9 833.1L786.9 829.8L786.9 835.3M787.3 847.9L788.5 862.3M790.9 875.6L793.2 870.1L795 875.6L797.4 869.7L799.8 869.1L798.3 873.8M805.2 874.8L807 878.5L808.9 888.6M812.6 893.3L815.3 885.9L816.6 894.2M817.2 907.1L820.9 921M821.8 910.8L822.7 898.8L825.1 914.5M827.7 921L825.5 933M832 932.1L833.3 940.4L838.1 944.1M843 938.5L846.7 931.1L849.5 929.8M857.8 934.8L860.2 937.6L861.5 948.7M849.1 945.9L851.7 959.8L855.1 944.1M860.6 961.6L862.4 975.5M864.3 957L868 957L868.9 967.2M868.9 981.9L870.4 986.6L873.5 977.3M877.2 980.1L880 967.2M880 950.5L883.7 946.8L885.5 956.1M887.4 969.9L890.7 984.7M892.9 997.6L896.3 1011.5M903.1 999.5L904.9 993L906.2 1005M901.8 1012.4L899 1026.3M906.8 1018L908.1 1025.4L910.5 1026.3M917 1030L920.3 1018L921.6 1022.6M911 1040L912.9 1048.8L916.2 1043.6M923.6 1035.5L923.6 1050.3M925.5 1062.1L925.8 1073.2L926.8 1076.9M931.7 1084.3L933.9 1070.3M940.6 1069.5L943.1 1085M951.6 1065.8L952.8 1076.2M944.2 1097.6L947.2 1096.9L949.9 1085M953.9 1088.7L955.8 1104.2L959 1103.5L960.5 1090.9L962.7 1093.2M967.6 1082.1L969.1 1096.9L972.8 1093.2L973.5 1085L980 1086.5M983.4 1071L985.6 1084.3M987.4 1096.1L989.8 1096.1L991.3 1082.1M994.8 1091.7L996 1079.1M999.7 1087.3L1000.1 1077.6M996 1057L996.3 1066.6M1001.9 1067.3L1002.9 1055.5M1005.6 1071L1007.1 1082.8L1009.3 1080.6M1012.2 1068L1015.2 1057L1016.4 1062.9M1017.9 1076.9L1018.9 1091.7M1019.6 1104.2L1020.4 1119M1023 1129.7L1027 1114.9M1032.2 1123.5L1033.2 1138.2M1038.1 1141.9L1044.8 1144.9L1047 1151.3M1034.9 1150.8L1037.1 1161.9M1052.6 1153.8L1055.1 1162.6L1057.8 1167.8M1060.7 1160.4L1061.8 1146.4L1064.7 1147.1L1067.7 1162.2M1068.4 1175.2L1070.6 1190M1072.8 1174.5L1075.5 1183.3L1078.8 1179.6L1081 1164.8M1086.1 1175.9L1089.1 1161.2M1092.4 1175.2L1093.5 1190M1097.2 1190.7L1099.2 1178.9L1100.9 1182.6M1100 1178.8L1101.1 1182.1M1107.2 1179.3L1110.5 1193.2M1100 1197.6L1102.2 1195.4L1104.4 1203.2L1106.1 1194.3M1116.1 1199.8L1118.3 1202.1L1120.5 1192.6L1123.3 1208.2M1123.8 1198.7L1127.2 1191.5L1129.4 1199.8L1132.1 1202.1M1136 1196.5L1137.1 1182.1L1140.5 1178.8L1142.1 1187.6L1143.8 1193.7M1138.8 1159.4L1139.9 1165.5L1138.8 1169.4M1132.7 1215.4L1133.3 1220.9L1135.5 1209.8M1144.9 1206.5L1146 1220.9M1152.7 1228.7L1154.9 1224.8L1157.6 1224.8L1160.4 1236.4M1161.5 1227L1164.3 1234.2M1174.8 1238.1L1175.4 1232L1178.7 1229.8L1180.7 1237M1169.8 1244.7L1172.1 1250.8L1174.5 1252.5L1174.1 1255.8M1188.1 1243.1L1189.8 1242L1191.1 1254.7M1202.5 1254.7L1204.8 1266.4L1206.4 1263M1197.6 1258.6L1195.9 1267.5L1193.1 1268M1210.3 1270.2L1213.1 1259.7L1216.4 1261.9M1228 1270.8L1231.4 1265.2L1234.1 1258.6M1219.2 1275.2L1221.9 1280.2L1225.3 1274.1M1235.8 1274.1L1236.9 1283L1241.3 1280.2M1247.4 1288.5L1249.1 1300.7M1253.5 1299.1L1255.2 1290.7L1257.4 1284.6M1266.8 1279.1L1269.6 1289.1L1272.9 1293M1280.1 1301.8L1282.9 1307.4L1286.8 1306.3M1305.1 1307.4L1307.3 1300.2L1309 1305.2M1266.7 1280L1269.4 1288.9L1272.7 1292.7M1280 1301.6L1283.8 1308.8L1287.2 1304.9L1288.3 1309.4M1304.9 1309.9L1307.7 1299.4L1309.3 1304.9M1310.4 1318.8L1313.2 1326.6L1316.5 1322.7M1326.5 1326.6L1329.3 1322.7L1333.2 1326.6M1339.3 1318.8L1343.1 1321.6L1345.9 1327.7M1349.8 1334.3L1352 1323.8L1354.8 1327.1M1369.2 1324.9L1371.4 1319.4L1374.7 1327.7M1377.5 1337.1L1381.4 1341L1385.3 1334.9M1360.9 1338.8L1364.2 1342.1L1367 1337.6M1389.1 1347.6L1391.9 1353.2M1394.7 1350.9L1398.6 1352.6M1437.4 1352.1L1439.6 1350.9L1442.9 1354.8M1436.3 1362.6L1439 1356.5L1441.8 1359.8M1454 1363.1L1456.8 1369.8M1479.5 1358.7L1484.5 1365.4L1486.7 1372M1458.4 1378.7L1460.6 1380.9M1504.4 1372L1507.8 1370.9L1511.1 1377.6M1516.6 1372L1520 1376.4M1533.3 1372L1536.6 1376.4L1539.9 1375.3M1551 1383.1L1555.4 1378.7M1570.9 1390.9L1575.4 1386.4M1588.7 1393.1L1593.1 1389.7M1606.4 1396.4L1610.9 1395.3M1625.3 1401.9L1628.6 1406.4"/>
<path class="c" d="M483.6 1431L486.4 1429.7L489.7 1428M495.8 1421.3L499.2 1419.1L500.8 1426.3M509.7 1417.5L511.4 1413.6L515.2 1415.2L515.8 1418.6M518 1401.9L519.9 1398.1L521.9 1411.4M530.8 1407.5L533 1406.4L536.3 1404.7L536.9 1408.6M539.1 1400.3L543 1404.2L545.7 1400.3L550.2 1399.5M556.1 1393.6L557.7 1403L560.5 1409.7M562.2 1411.9L566.6 1396.4L573.3 1393.6M577.7 1395.8L580.5 1399.7L585.5 1398.1M587.1 1393.6L587.7 1388.1L594.3 1380.3M599.9 1371.5L601.5 1374.2L604.8 1362M609.8 1349.3L612.6 1344.8L615.4 1352.1L616.5 1347.6M622 1347.6L625.1 1333.8M628.1 1341L630.9 1346L633.7 1341.5L637 1346M641.4 1344.8L644.2 1344.3L646.4 1332.1M650.3 1344.3L651.2 1359.3M655.3 1352.1L658.1 1337.6M664.2 1337.6L666.4 1342.1L671.9 1350.4M678 1343.7L679.7 1329.9M685.2 1331.5L688 1324.9L691.3 1322.7L691.9 1326.6M693.5 1339.9L694.1 1349.8M696.3 1331L699.6 1324.3L702.4 1319.9L703.5 1324.3M708.5 1333.8L709.6 1331.5L711.8 1340.4L715.2 1341M722.9 1332.1L725.7 1321.6L727.9 1325.5M736.2 1334.9L738.4 1326L741.8 1324.3M743.4 1310.5L745.1 1295.5M751.2 1301.1L752.3 1307.2L754.5 1312.1L756.7 1309.9M761.2 1309.4L762.8 1315.5L765 1318.8M767.3 1303.8L770 1297.7L771.7 1306.1M780 1309.9L781.7 1319.4M793.3 1322.7L793.9 1315.5L795.5 1309.4M801.1 1306.6L804.4 1307.7L807.2 1303.3L808.3 1311M786.7 1330.4L789.4 1341.5L791.1 1336.5M809.9 1324.3L812.1 1332.1L815.5 1329.3L818.8 1328.2M825.5 1317.1L828.2 1307.7L831 1313.8M833.2 1327.1L836.5 1324.9L838.8 1337.1M846.5 1337.6L849.3 1331.5L853.2 1331.5L856.5 1334.9M859.8 1326L862.6 1337.1L864.2 1332.1M870.3 1332.1L873.1 1322.7L874.8 1321.6M881.4 1329.9L885.3 1334.9L888.6 1332.7L890.9 1326.6M895.8 1323.8L899.2 1328.8L905.3 1334.3L908.6 1334.3M908.6 1328.8L911.9 1326M915.8 1338.8L918.6 1346.5M925.8 1343.7L928 1339.3L934.1 1337.6M936.3 1327.7L939.1 1333.2L940.7 1326.6L944.1 1325.5M945.7 1338.2L949.1 1341.5L949.6 1350.9M957.9 1334.9L960.1 1326.6L962.9 1330.4L966.2 1329.9M972.9 1325.5L975.1 1338.8L977.3 1343.2M984 1336.5L986.2 1323.2M994.5 1337.6L996.2 1328.8M1000 1327.1L1002.8 1318.8M1007.3 1321.6L1010 1318.2L1011.7 1328.8M1020 1324.3L1021.1 1337.6M1023.3 1353.2L1025.5 1344.3M1034.4 1342.1L1036.6 1348.7L1040.5 1348.2M1046.6 1350.9L1047.7 1333.2L1051.6 1326.6M1062.7 1337.1L1065.5 1339.9L1068.8 1346.5M1076.5 1352.1L1078.8 1344.3M1085.4 1342.1L1087.6 1337.6L1090.9 1344.3M1097.6 1357.6L1100.9 1359.8L1105.4 1346.5M1110.9 1346.5L1114.2 1350.9L1117.6 1342.6M1119.8 1350.9L1123.1 1357.6L1126.4 1365.4M1129.7 1345.4L1132 1339.9M1137.9 1374.2L1138.9 1308.8L1139.9 1374.2M1141.9 1342.1L1145.3 1345.4M1148.6 1357.6L1151.4 1347.6L1153.6 1347.1M1159.7 1353.2L1163 1352.6L1163 1363.7M1163.6 1357.6L1165.4 1410.8L1167.2 1359.8M1167.4 1353.2L1170.2 1347.1L1173.5 1356.5M1179.6 1369.8L1178.5 1362.6M1188.5 1372L1191.8 1377.6L1196.3 1369.8M1202.9 1367.6L1207.3 1373.1M1210.7 1357.6L1212.9 1362M1219.5 1367.6L1224 1372M1230.6 1360.9L1236.2 1368.7M1245 1356.5L1247.3 1352.1M1256.1 1356.5L1257.2 1353.2M1260 1380.9L1262.2 1384.2L1265.5 1387.5M1272.2 1393.1L1274.4 1388.6L1277.7 1389.7M1280 1369.8L1282.2 1373.1L1285.5 1372M1292.1 1386.4L1296.6 1395.3L1301 1388.6M1304.3 1382L1312.1 1387.5L1314.3 1388.6M1330.9 1394.2L1335.4 1396.4M1332.1 1367.6L1336.5 1365.4M1337.6 1379.8L1342 1386.4M1353.1 1388.6L1362 1377.6M1364.2 1382L1369.7 1379.8M1385.3 1380.9L1388.6 1383.1M1398.6 1390.9L1404.1 1395.3M1413 1404.2L1417.4 1405.3M1415.2 1385.3L1424.1 1384.2M1432.9 1395.3L1437.4 1390.9M1448.5 1401.9L1455.1 1394.2M1465.1 1405.3L1470.6 1403M1481.7 1395.3L1487.3 1397.5M1492.8 1405.3L1497.2 1408.6M1502.2 1395.3L1506.7 1398.6M1517.7 1396.4L1522.2 1394.2M1536.6 1393.1L1541 1397.5M1555.4 1394.2L1559.9 1398.6M1577.6 1400.8L1582 1403M1599.8 1405.3L1604.2 1407.5M1621.9 1413L1626.4 1416.4M1641.9 1426.3L1646.3 1424.1"/>
<path class="c" d="M495.3 1444.1L499.7 1443M521.9 1435.2L526.3 1433L529.7 1435.2M546.3 1427.4L550.7 1429.1M565.1 1422.4L568.5 1426.3L572.9 1424.1M540 1414.7L543.3 1415.2M562.7 1416.4L566.1 1424.1L569.4 1425.8L574.4 1420.8M593.2 1407.5L597.6 1409.7M606.5 1402.5L612.1 1397.5L615.4 1400.8M622 1401.4L624.8 1390.9L628.7 1390.3M637.6 1383.6L641.4 1394.2M646.2 1389.7L649.2 1398.6L652.2 1401.9M661.9 1398.6L664.7 1394.2L666.4 1388.1M671.9 1397L675 1402.5L679.1 1391.4M685.8 1391.4L689.7 1395.8L693.5 1399.7L696.3 1396.4M703 1384.2L706.8 1390.9L711.3 1394.7M719.6 1392.2L722.4 1392L725.1 1384.2L728.5 1384.8M740.1 1388.1L744 1382L748.4 1378.1M756.7 1382.5L760 1389.2L762.8 1382.5M769.5 1381.4L770.6 1386.4L775 1395.8M780 1389.7L783.9 1395.8L787.8 1389.7M796.1 1379.2L798.8 1372L801.1 1377L803.8 1379.2M809.4 1389.2L812.7 1376.4M818.8 1387.5L820.5 1389.7L822.7 1384.8L826.6 1388.6M830.4 1381.4L834.3 1384.8L837.6 1393.6M843.2 1397L845.4 1392L849.8 1385.9M857 1384.2L859.8 1379.8L865.9 1388.6M873.1 1388.1L870.9 1401.9L872.6 1402.5M882 1389.2L885.9 1384.8L888.1 1392L889.7 1392.5M897.5 1386.4L901.9 1399.7M905.3 1390.9L907.5 1393.6L909.1 1382.5M914.1 1389.7L916.4 1382L920.2 1381.4L921.9 1384.2M931.3 1387L936.9 1372.6M939.6 1386.4L944.1 1394.2L947.4 1391.4M949.6 1377L951.8 1392M957.9 1388.6L961.2 1383.1L964 1383.6L967.9 1378.7M970.1 1388.6L973.4 1382.5M980.6 1383.6L984 1389.7L986.7 1380.9M995.1 1374.2L998.9 1374.8L1001.7 1367M1007.3 1378.1L1012.2 1367M1017.8 1368.7L1020 1384.2M1020 1382L1021.7 1384.2L1025 1383.6L1026.1 1373.1L1030 1375.9M1036.1 1368.1L1039.4 1372L1042.2 1378.7L1046.1 1374.2M1052.7 1372L1054.4 1380.3L1057.7 1380.9L1060.5 1383.6M1062.7 1370.9L1067.7 1372L1070.4 1365.4L1072.7 1367.6M1078.2 1374.8L1081 1370.9L1084.3 1362M1090.4 1369.2L1093.7 1365.9L1097 1374.8M1103.7 1369.8L1107.6 1378.7L1109.8 1380.3M1120.3 1378.7L1123.6 1369.2L1125.3 1377M1132 1375.3L1133.1 1372L1136.4 1382M1137.5 1390.9L1138.8 1337.6L1140.4 1390.9M1145.3 1379.8L1145.8 1384.2L1151.4 1384.8L1153.6 1376.4M1163.2 1368.7L1165 1409.7L1166.9 1368.7M1174.1 1380.9L1178.5 1380.3L1180.7 1383.1L1185.2 1376.4M1189.6 1372.6L1191.8 1377.6M1225.1 1387L1228.4 1377.6L1231.7 1382M1241.7 1384.2L1246.1 1375.3M1249.5 1386.4L1252.8 1392L1257.2 1383.6M1263.3 1390.9L1266.7 1385.3M1271.1 1393.1L1274.4 1394.2M1285.5 1395.3L1288.8 1390.9M1294.4 1395.3L1299.9 1398.6M1317.6 1384.2L1326.5 1400.8M1332.1 1399.7L1338.7 1405.3M1339.8 1399.7L1344.2 1390.9M1355.3 1401.9L1360.9 1400.8M1365.3 1399.7L1370.9 1390.9M1379.7 1399.7L1383 1401.9M1389.7 1400.8L1393 1396.4M1400.8 1400.8L1407.4 1397.5M1418.5 1390.9L1423 1398.6M1428.5 1401.9L1431.8 1408.6M1438.5 1407.5L1444 1403M1457.3 1407.5L1460.6 1405.3M1470.6 1407.5L1475.1 1408.6M1482.8 1401.9L1488.4 1405.3M1491.7 1413L1495 1409.7M1504.4 1416.4L1508.9 1418.6M1524.4 1416.4L1528.8 1414.1M1544.3 1420.8L1548.8 1423M1566.5 1416.4L1570.9 1419.7M1586.5 1418.6L1590.9 1424.1M1608.6 1424.1L1613.1 1427.4M1630.8 1427.4L1635.2 1430.8"/>
<path class="c" d="M1711.8 1449.6L1716.7 1443.2"/>
<path class="c" d="M1362 1389.1L1364.9 1385L1367 1394.3L1369.6 1394.2M1379.7 1389.6L1382 1392L1384.2 1395.1L1387.2 1390.6L1389.5 1390L1392.2 1388.1L1395 1389.9M1400.4 1392.2L1402.7 1397L1405.8 1388.1L1408.6 1396.5L1411.4 1390.7M1422.1 1389.2L1424.5 1390.7L1427 1395.3L1429.9 1401L1433 1403.3L1435.9 1395.2L1438.2 1397M1448.6 1396.4L1450.8 1395.1L1453.8 1398.1L1456.9 1393.3L1459.5 1399.8L1462 1401.8M1467.3 1403L1469.6 1395L1472.7 1392.6L1474.8 1398M1482.6 1403.8L1485.2 1404.3L1487.9 1400.7L1490.9 1393.6M1498.6 1398.7L1501.2 1406.3L1503.4 1403.3L1506.1 1407.4L1509.1 1407.2L1512.2 1408.5L1515 1405.2M1525.4 1407.2L1528 1408.4L1530.5 1401.5L1532.8 1408.2L1535.6 1412.6M1546.2 1404.3L1548.6 1412.2L1550.9 1414.9L1553.3 1412.1L1556.3 1407.5L1559.3 1403.4L1561.9 1412.8M1572.1 1405.9L1574.6 1413.5L1577 1411L1579.3 1418.8L1581.6 1411.8L1584.6 1418.8L1587.4 1421.2M1597.8 1409.9L1600.7 1419.5L1603.8 1415.9L1606.1 1415.4L1609.1 1415.4L1611.5 1424.3L1614.6 1419.1M1624.6 1416.4L1627.7 1422.8L1630.1 1424.9L1633.1 1423.5L1636 1425.4M1640.9 1434.3L1643.2 1434.2L1645.4 1437.8L1648.2 1431.3"/>
<path class="c" d="M1362 1403.1L1364.2 1402L1366.6 1393.7L1368.7 1394.9M1373.8 1396.9L1375.9 1401.3L1378.1 1393.8L1380.9 1401.6L1383.8 1405.5L1386.1 1396.3L1388.4 1404.3M1393.2 1394.7L1395.3 1396.7L1397.6 1396.9L1400.6 1395.4L1403.5 1401.9L1406.2 1402.1L1409.1 1402.4M1416.6 1400.7L1418.8 1401.1L1421.7 1401L1424.5 1396.8L1426.6 1402.5L1428.8 1400M1433.9 1396.8L1436.9 1403.3L1440 1403.1L1443 1407.6L1445.7 1405L1448.4 1400.7L1450.8 1405.6M1460.9 1399.6L1463.3 1397.1L1465.4 1407.9L1468.1 1411.5L1471 1404.8L1474 1410.3M1479.2 1403.8L1481.7 1400.2L1484.5 1410.1L1486.8 1410.7L1489.5 1407.5L1492.5 1405.4L1495.4 1400.8M1501.1 1412.6L1503.9 1411.4L1506.8 1407.8L1509 1406.2M1514.6 1403L1517.4 1402.3L1520 1412.3L1522.1 1406.1L1524.5 1412.5L1526.8 1408.6L1529.5 1409.2M1537.5 1410.4L1540.5 1407.2L1542.6 1418L1545.1 1417.5M1555.4 1417L1557.5 1422.2L1559.7 1421L1562.4 1415.5M1567.7 1418.2L1570.5 1423.3L1572.9 1422.6L1575.8 1424.9L1577.9 1421.1M1585.8 1422.7L1588.4 1417.8L1591 1424.3L1593.6 1420.5L1596.6 1420.3M1607.5 1428.2L1610 1422.3L1613.1 1429.7L1615.8 1429.6M1620.5 1427.1L1623.2 1430.1L1626.1 1436L1628.5 1435.5L1631.5 1429.2L1633.9 1432.2L1636.9 1432M1647 1437.7L1649.1 1437.8L1651.5 1432.2"/>
<path class="c" d="M1172 1360.4L1174.3 1367.7L1176.9 1370.7L1179.5 1367.8L1182.6 1371.8M1193.5 1370.1L1195.9 1367.1L1198.5 1363.5L1201.2 1370.9L1203.7 1374.8M1217.1 1378.5L1220.2 1370L1222.7 1374.7L1225.6 1374.9M1235.8 1378.1L1238.8 1375.9L1241.5 1379.4M1249.6 1371.4L1252.1 1375.4L1255.1 1381L1257.6 1382"/>
<path class="c" d="M1172 1377.6L1174.1 1375.8L1176.3 1377.4L1179.3 1374.4L1182.4 1377.1M1190.3 1384.2L1193.1 1378L1195.3 1378.4M1203.1 1390L1205.5 1384.6L1207.8 1384L1210.1 1380.2L1212.9 1384.4M1225.7 1387.5L1228.4 1392.5L1230.7 1385.4L1233.5 1392.3M1241.3 1389.7L1243.8 1385.3L1246.2 1385.5L1248.6 1383.8M1256.2 1389.5L1259.2 1394.4"/>
<path d="M1669.5 1299.2V1340" fill="none" stroke="#000" stroke-width="6.6" stroke-linecap="round"/>
<path d="M1658.7 1336.6H1680.8L1669.6 1382Z" fill="#000" stroke="#000" stroke-width="6.4" stroke-linejoin="round"/>
<rect class="fr" x="232.8" y="55.9" width="1989.3" height="1401.5"/>
<text class="t" x="231.7" y="1526" text-anchor="middle">250</text>
<text class="t" x="480.4" y="1526" text-anchor="middle">300</text>
<text class="t" x="729" y="1526" text-anchor="middle">350</text>
<text class="t" x="977.7" y="1526" text-anchor="middle">400</text>
<text class="t" x="1226.4" y="1526" text-anchor="middle">450</text>
<text class="t" x="1475" y="1526" text-anchor="middle">500</text>
<text class="t" x="1723.7" y="1526" text-anchor="middle">550</text>
<text class="t" x="1972.3" y="1526" text-anchor="middle">600</text>
<text class="t" x="2221" y="1526" text-anchor="middle">650</text>
<text class="t" x="211.2" y="1472.5" text-anchor="end">0</text>
<text class="t" x="211.2" y="774.5" text-anchor="end">50</text>
<text class="t" x="211.2" y="72.5" text-anchor="end">100</text>
<text class="a" x="1229.4" y="1612.7" text-anchor="middle">λ / nm</text>
<text class="a" transform="translate(80.7 951.4) rotate(-90)" letter-spacing="-0.8"><tspan font-style="italic">I</tspan><tspan font-size="57" dy="16.3">F</tspan><tspan dy="-16.3"> / rel. units</tspan></text>
<rect x="1284.2" y="151.4" width="795" height="529.9" fill="#fff"/>
<path class="k" d="M1407.1 681.3v-15M1529.4 681.3v-30M1651.8 681.3v-15M1774.2 681.3v-30M1896.6 681.3v-15M2018.9 681.3v-30M1284.2 548h13.8M1284.2 415h28.6M1284.2 283h13.8"/>
<rect class="fr" x="1284.2" y="151.4" width="795" height="529.9"/>
<polyline class="c" style="stroke-width:4.4" points="1284.3,670 1322.6,656.5 1348.6,642 1377.1,629 1388.6,619.9 1406.3,610.4 1432.9,597.1 1483.1,571.8 1497,565 1529.3,548.7 1573.7,525.6 1603.2,511.8 1634.6,495.5 1667.9,477.6 1691.9,465.6 1717.8,452.7 1745.5,438.8 1775,424 1803.5,408.8 1857,381.1 1908.8,354.3 1931,343.2 1962.4,326.6 1991.9,311.8 2012.2,301.2 2022,297.6"/>
<path class="e" d="M1284.3 669.5V671.5M1270.7 669.5h27.2M1270.7 671.5h27.2M1323 653.5V660.3M1309.4 653.5h27.2M1309.4 660.3h27.2M1348.6 636.5V647.6M1335 636.5h27.2M1335 647.6h27.2M1377 621.9V645.1M1363.4 621.9h27.2M1363.4 645.1h27.2M1497.2 496.3V614.9M1483.6 496.3h27.2M1483.6 614.9h27.2M1681.2 429.4V518.1M1667.6 429.4h27.2M1667.6 518.1h27.2M2022 243.6V350.8M2008.4 243.6h27.2M2008.4 350.8h27.2"/>
<circle cx="1284.3" cy="669.8" r="12" fill="#000"/>
<circle cx="1323" cy="657" r="12" fill="#000"/>
<circle cx="1348.6" cy="642" r="12" fill="#000"/>
<circle cx="1377" cy="633.2" r="12" fill="#000"/>
<circle cx="1497.2" cy="555.8" r="12" fill="#000"/>
<circle cx="1681.2" cy="474.3" r="12" fill="#000"/>
<circle cx="2022" cy="297.6" r="12" fill="#000"/>
<text class="it" x="1284.8" y="738" text-anchor="middle">0</text>
<text class="it" x="1529.4" y="738" text-anchor="middle">2000</text>
<text class="it" x="1774" y="738" text-anchor="middle">4000</text>
<text class="it" x="2018.6" y="738" text-anchor="middle">6000</text>
<text class="it" x="1262.3" y="693.6" text-anchor="end">0</text>
<text class="it" x="1262.3" y="428.6" text-anchor="end">50</text>
<text class="it" x="1262.3" y="164.3" text-anchor="end">100</text>
<text class="ia" y="814.7"><tspan x="1536.4" font-style="italic">c </tspan><tspan x="1583.4">/ </tspan><tspan x="1618.6" letter-spacing="-1.2">mg </tspan><tspan x="1720" letter-spacing="-1.5">kg</tspan><tspan x="1787.6" font-size="51" dy="-27.4" letter-spacing="-2">-1</tspan></text>
<text class="ia" transform="translate(1155.8 586.3) rotate(-90)" letter-spacing="-1"><tspan font-style="italic">I</tspan><tspan font-size="50" dy="14">F</tspan><tspan dy="-14"> / rel. units</tspan></text>
</svg>
</body></html>
